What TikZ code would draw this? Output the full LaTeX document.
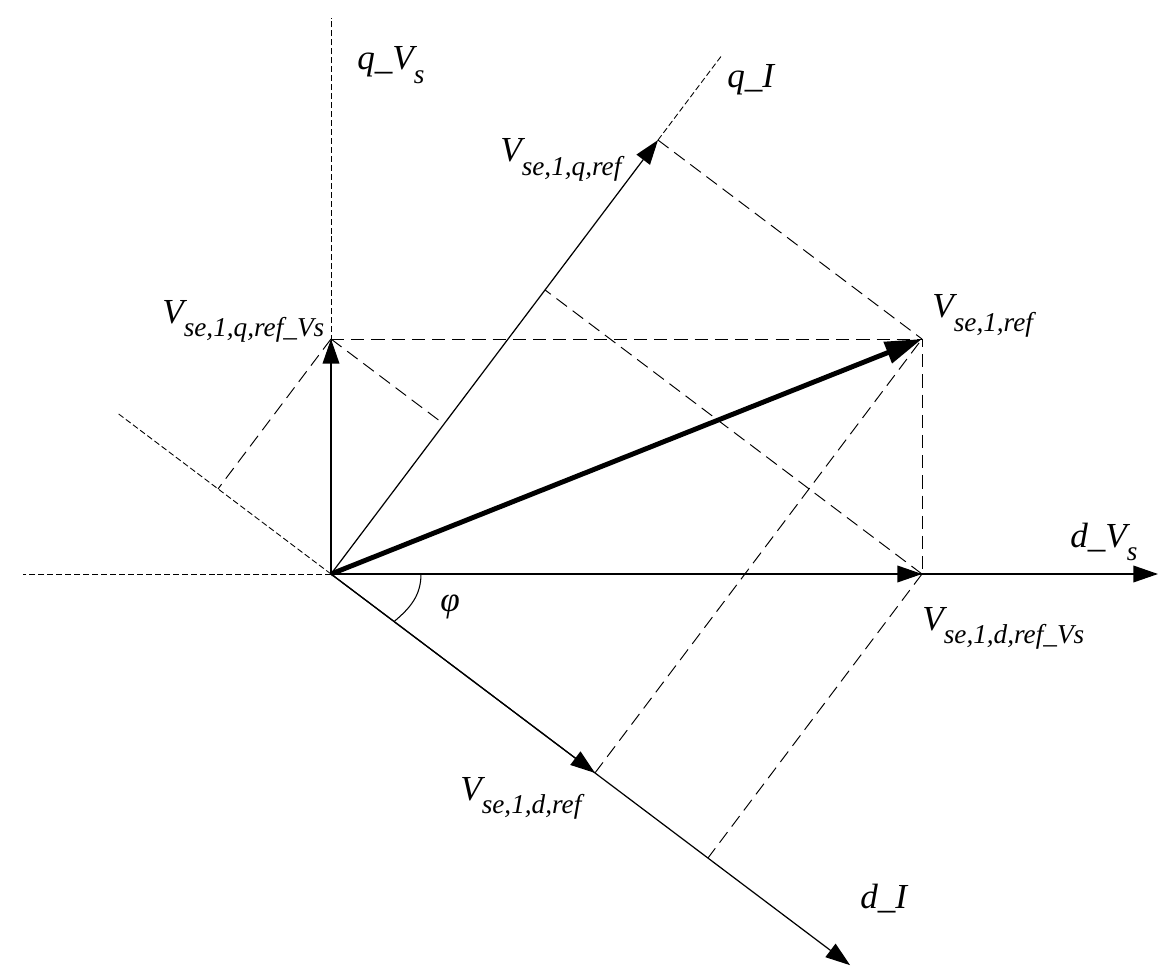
\documentclass[tikz,border=0pt]{standalone}
\usepackage{fontspec}
\setmainfont{Liberation Serif}
\usetikzlibrary{arrows.meta,calc}

\newcommand{\lowsub}[1]{\raisebox{-7.5pt}{\fontsize{15.5}{15.5}\selectfont #1}}

\tikzset{
	axisdot/.style={line width=.5pt, dash pattern=on 3.4pt off 1.7pt},
	proj/.style={line width=.55pt, dash pattern=on 7.5pt off 4pt},
	vec/.style={line width=.7pt, -{Triangle[length=14pt,width=9.5pt]}},
	bigvec/.style={line width=2.8pt, -{Triangle[length=21pt,width=12.5pt]}},
	lab/.style={font=\fontsize{20}{24}\selectfont\itshape, inner sep=0pt, anchor=base west}
}

\begin{document}
\begin{tikzpicture}[x=0.02cm, y=0.02cm]
	\useasboundingbox (-331,-404) rectangle (830,574);
	% axes and points
	\coordinate (O) at (0,0);
	\coordinate (dleft) at (-308,0);
	\coordinate (dVsend) at (827,0);
	\coordinate (qVstop) at (0,556);
	\coordinate (dIend) at (-37:650);
	\coordinate (dIneg) at (143:268);
	\coordinate (qItop) at (53:649);
	\coordinate (Vref) at (591,235);
	\coordinate (VdVs) at (591,0);
	\coordinate (VqVs) at (0,235);
	\coordinate (VdI) at ($(O)!(Vref)!(dIend)$);
	\coordinate (VqI) at ($(O)!(Vref)!(qItop)$);
	\coordinate (pdq) at ($(O)!(VdVs)!(qItop)$);
	\coordinate (pdd) at ($(O)!(VdVs)!(dIend)$);
	\coordinate (pqq) at ($(O)!(VqVs)!(qItop)$);
	\coordinate (pqd) at ($(O)!(VqVs)!(dIneg)$);

	% dotted axis parts
	\draw [axisdot] (O) -- (dleft);
	\draw [axisdot] (O) -- (qVstop);
	\draw [axisdot] (O) -- (dIneg);
	\draw [axisdot] (VqI) -- (qItop);

	% projection lines
	\draw [proj] (VqVs) -- (Vref) -- (VdVs);
	\draw [proj] (VqI) -- (Vref);
	\draw [proj] (VdI) -- (Vref);
	\draw [proj] (VdVs) -- (pdq);
	\draw [proj] (VdVs) -- (pdd);
	\draw [proj] (VqVs) -- (pqq);
	\draw [proj] (VqVs) -- (pqd);

	% axes and vectors
	\draw [vec] (O) -- (dVsend);
	\draw [vec] (O) -- (dIend);
	\draw [vec] (O) -- (VdVs);
	\draw [vec] (O) -- (VqVs);
	\draw [vec] (O) -- (VqI);
	\draw [vec] (O) -- (VdI);
	\draw [bigvec] (O) -- (Vref);

	% angle
	\draw [line width=.6pt] (90,0) to[out=-90,in=40] (-37:79);
	\node [lab, anchor=center] (phi) at (119,-33) {φ};

	% labels
	\node [lab] (lqVs) at (26,504) {q\_V\lowsub{s}};
	\node [lab] (lqI) at (396,486) {q\_I};
	\node [lab] (lVqI) at (169,412) {V\lowsub{se,1,q,ref}};
	\node [lab] (lVqVs) at (-169,251) {V\lowsub{se,1,q,ref\_Vs}};
	\node [lab] (lVref) at (601,256) {V\lowsub{se,1,ref}};
	\node [lab] (ldVs) at (739,27) {d\_V\lowsub{s}};
	\node [lab] (lVdVs) at (591,-56) {V\lowsub{se,1,d,ref\_Vs}};
	\node [lab] (lVdI) at (129,-226) {V\lowsub{se,1,d,ref}};
	\node [lab] (ldI) at (529,-334) {d\_I};
\end{tikzpicture}
\end{document}
